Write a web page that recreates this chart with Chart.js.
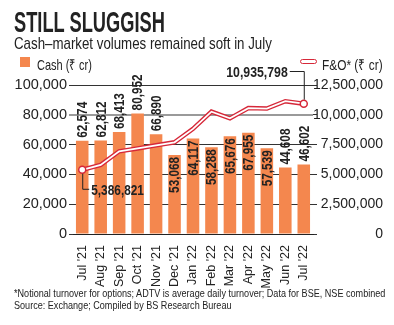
<!DOCTYPE html>
<html>
<head>
<meta charset="utf-8">
<script src="https://cdn.jsdelivr.net/npm/chart.js@4"></script>
<style>
  body { margin:0; width:394px; height:325px; overflow:hidden; background:#fff; font-family:"Liberation Sans",sans-serif; color:#222; }
  .txt { position:absolute; white-space:nowrap; transform-origin:0 0; }
  #title { left:14px; top:5px; font-size:30px; font-weight:bold; color:#222; }
  #sub { left:14px; top:34px; font-size:17px; color:#222; }
  #lgCash { left:37px; top:54px; font-size:15px; }
  #lgFno { left:322px; top:54px; font-size:15px; }
  #swCash { position:absolute; left:20px; top:57px; width:10px; height:10px; background:#f4874e; }
  #swFno { position:absolute; left:300px; top:59px; width:15px; height:3px; border:1.5px solid #d62839; border-radius:3px; background:#fff; }
  #note { left:14px; top:287px; font-size:11.5px; line-height:12px; color:#222; }
  #wrap { position:absolute; left:0; top:0; width:394px; height:325px; }
</style>
</head>
<body>
<div id="wrap"><canvas id="myChart"></canvas></div>
<div class="txt" id="title">STILL SLUGGISH</div>
<div class="txt" id="sub">Cash–market volumes remained soft in July</div>
<div id="swCash"></div>
<div class="txt" id="lgCash">Cash (₹ cr)</div>
<div id="swFno"></div>
<div class="txt" id="lgFno">F&amp;O* (₹ cr)</div>
<div class="txt" id="note">*Notional turnover for options; ADTV is average daily turnover; Data for BSE, NSE combined<br>Source: Exchange; Compiled by BS Research Bureau</div>
<script>
const months = ["Jul '21","Aug '21","Sep '21","Oct '21","Nov '21","Dec '21","Jan '22","Feb '22","Mar '22","Apr '22","May '22","Jun '22","Jul '22"];
const cash = [62574, 62812, 68413, 80952, 66890, 53068, 64117, 58288, 65676, 67955, 57539, 44608, 46602];
const fno = [5386821, 5800000, 6940000, 7180000, 7440000, 7690000, 8820000, 10260000, 9700000, 10560000, 10520000, 11140000, 10935798];
const cashTicks = [0, 20000, 40000, 60000, 80000, 100000];
const fnoTicks = [0, 2500000, 5000000, 7500000, 10000000, 12500000];

const ORANGE = '#f4874e';
const RED = '#d62839';
const FONT = '"Liberation Sans", sans-serif';
const fmt = v => v.toLocaleString('en-US');

// squeeze a text block to a set width
function fitWidth(id, w) {
  const el = document.getElementById(id);
  el.style.transform = 'scaleX(' + (w / el.offsetWidth) + ')';
}
fitWidth('title', 151);
fitWidth('sub', 258);
fitWidth('lgCash', 55);
fitWidth('lgFno', 61);
fitWidth('note', 371);

// condensed text on the canvas: shrink along the reading direction
function narrowText(ctx, txt, x, y, align, angle, squeeze) {
  ctx.save();
  ctx.translate(x, y);
  ctx.rotate(angle);
  ctx.scale(squeeze, 1);
  ctx.textAlign = align;
  ctx.fillText(txt, 0, 0);
  ctx.restore();
}

// value labels on the bars, rotated
const barLabels = {
  id: 'barLabels',
  afterDatasetsDraw(chart) {
    const ctx = chart.ctx;
    const bars = chart.getDatasetMeta(0).data;
    const pts = chart.getDatasetMeta(1).data;
    const sq = 0.84;
    ctx.save();
    ctx.font = 'bold 14px ' + FONT;
    ctx.fillStyle = '#222';
    ctx.textBaseline = 'middle';
    bars.forEach((b, i) => {
      const txt = fmt(cash[i]);
      const w = ctx.measureText(txt).width * sq;
      const gap = b.y - pts[i].y;
      const inside = gap > 0 && gap < w + 6;
      narrowText(ctx, txt, b.x + 1, inside ? b.y + 2 : b.y - 3, inside ? 'right' : 'left', -Math.PI / 2, sq);
    });
    ctx.restore();
  }
};

// first and last F&O values with leader lines
const endLabels = {
  id: 'endLabels',
  afterDraw(chart) {
    const ctx = chart.ctx;
    const pts = chart.getDatasetMeta(2).data;
    const a = pts[0], z = pts[pts.length - 1];
    ctx.save();
    ctx.strokeStyle = '#222';
    ctx.lineWidth = 1;
    ctx.font = 'bold 15px ' + FONT;
    ctx.fillStyle = '#222';
    ctx.textBaseline = 'middle';

    ctx.beginPath();
    ctx.moveTo(a.x + 0.5, a.y + 4);
    ctx.lineTo(a.x + 0.5, a.y + 19.5);
    ctx.lineTo(a.x + 7, a.y + 19.5);
    ctx.stroke();
    narrowText(ctx, fmt(fno[0]), a.x + 9, a.y + 21, 'left', 0, 0.79);

    const ty = chart.chartArea.top - 13.5;
    ctx.beginPath();
    ctx.moveTo(z.x - 14, ty);
    ctx.lineTo(z.x + 0.5, ty);
    ctx.lineTo(z.x + 0.5, z.y - 4);
    ctx.stroke();
    narrowText(ctx, fmt(fno[fno.length - 1]), z.x - 16, ty + 1, 'right', 0, 0.82);
    ctx.restore();
  }
};

const ctx = document.getElementById('myChart').getContext('2d');
const myChart = new Chart(ctx, {
  type: 'bar',
  data: {
    labels: months,
    datasets: [{
      label: 'Cash (₹ cr)',
      data: cash,
      backgroundColor: ORANGE,
      yAxisID: 'y',
      barPercentage: 0.68,
      categoryPercentage: 1,
      order: 3
    }, {
      type: 'line',
      label: 'F&O* (₹ cr)',
      data: fno,
      yAxisID: 'y1',
      borderColor: RED,
      borderWidth: 4.5,
      pointRadius: 0,
      tension: 0,
      order: 2
    }, {
      type: 'line',
      label: 'F&O inner',
      data: fno,
      yAxisID: 'y1',
      borderColor: '#fff',
      borderWidth: 1.8,
      pointRadius: fno.map((v, i) => (i === 0 || i === fno.length - 1) ? 3.5 : 0),
      pointBackgroundColor: '#fff',
      pointBorderColor: RED,
      pointBorderWidth: 1.5,
      tension: 0,
      order: 1
    }]
  },
  options: {
    responsive: true,
    maintainAspectRatio: false,
    animation: false,
    events: [],
    layout: { padding: { left: 10, right: 11, top: 85, bottom: 35 } },
    plugins: { legend: { display: false }, tooltip: { enabled: false } },
    scales: {
      x: {
        grid: { display: false },
        border: { color: '#222', width: 1 },
        ticks: { color: '#222', font: { family: FONT, size: 12.5 }, autoSkip: false, minRotation: 90, maxRotation: 90, padding: 3 },
        afterFit: s => { s.height = 56; }
      },
      y: {
        position: 'left',
        min: 0, max: 100000,
        afterBuildTicks: s => { s.ticks = cashTicks.map(v => ({ value: v })); },
        grid: {
          color: c => c.tick.value === 80000 ? '#9a9a9a' : '#333',
          lineWidth: c => c.tick.value === 80000 ? 2 : 1,
          tickLength: 4
        },
        border: { display: false },
        ticks: { color: '#222', font: { family: FONT, size: 14.5 }, padding: 2, callback: v => fmt(v) },
        afterFit: s => { s.width = 63; }
      },
      y1: {
        position: 'right',
        min: 0, max: 12500000,
        afterBuildTicks: s => { s.ticks = fnoTicks.map(v => ({ value: v })); },
        grid: { drawOnChartArea: false, color: '#333', tickLength: 4 },
        border: { display: false },
        ticks: { color: '#222', font: { family: FONT, size: 14 }, padding: 2, crossAlign: 'far', callback: v => fmt(v) },
        afterFit: s => { s.width = 70; }
      }
    }
  },
  plugins: [barLabels, endLabels]
});
</script>
</body>
</html>
